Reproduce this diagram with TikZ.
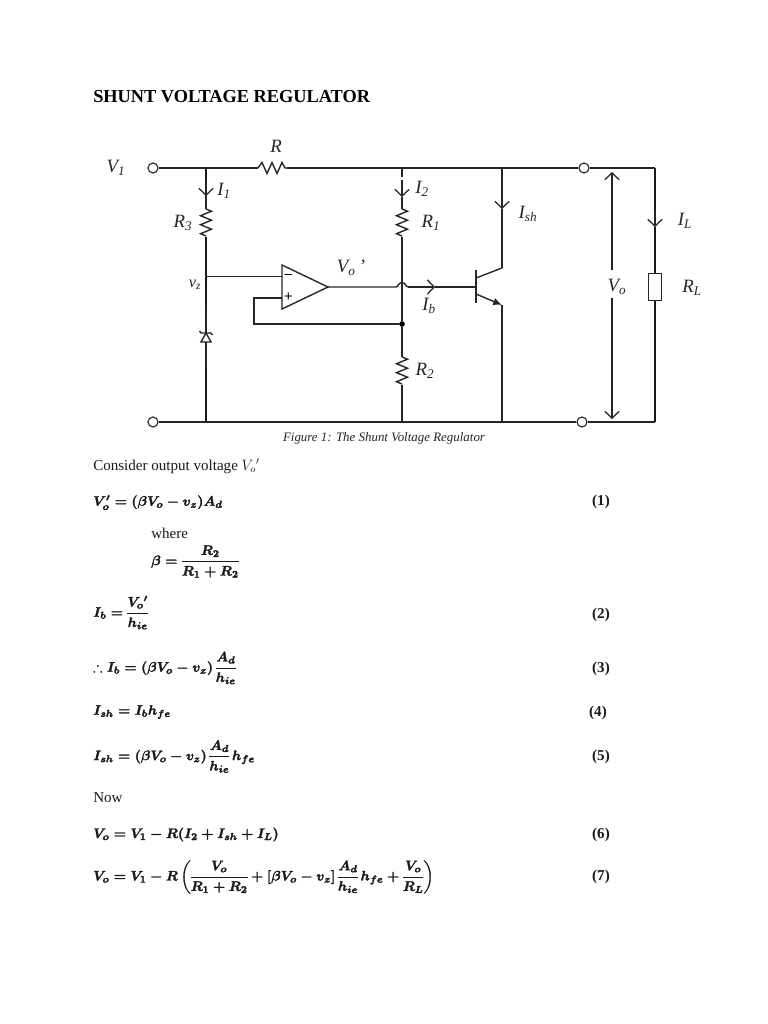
\documentclass[tikz,border=0pt]{standalone}
\usepackage{amsmath,amssymb}
\usepackage[no-math]{fontspec}
\setmainfont{Liberation Serif}
\usetikzlibrary{arrows.meta,calc}
\setlength{\nulldelimiterspace}{0pt}
\tikzset{
  wire/.style={line width=1.1pt,black!85},
  thick wire/.style={line width=1.7pt,black!90},
  thin wire/.style={line width=0.8pt,black!85},
  flow/.style={wire,-{Straight Barb[length=5.5pt,width=11.5pt,line width=1pt]}},
  term/.style={circle,draw=black!85,line width=0.9pt,fill=white,minimum size=8pt,inner sep=0pt},
  dot/.style={circle,fill=black,minimum size=4.5pt,inner sep=0pt},
  lab/.style={inner sep=0pt,font=\fontsize{15}{17}\selectfont\itshape,text=black!85},
  txt/.style={inner sep=0pt,anchor=base west,font=\fontsize{12}{14}\selectfont,text=black!90},
  eq/.style={inner sep=0pt,anchor=west,font=\fontsize{11}{13}\selectfont\boldmath,text=black!90,
    execute at begin node={\special{pdf:code 2 Tr 0.2 w}},
    execute at end node={\special{pdf:code 0 Tr}}},
  num/.style={inner sep=0pt,font=\fontsize{12}{14}\selectfont\bfseries,text=black!90},
}
\newcommand{\Rv}[1]{\draw[wire] (#1) -- ++(5.5,2.2) -- ++(-11,4.5) -- ++(11,4.5) -- ++(-11,4.5) -- ++(11,4.5) -- ++(-11,4.5) -- ++(5.5,2.3);}
\begin{document}
\begin{tikzpicture}[x=0.797pt,y=-0.797pt]
\useasboundingbox (0,0) rectangle (768,1024);
\fill[white] (0,0) rectangle (768,1024);
% title
\node[inner sep=0pt,anchor=base west,font=\fontsize{14.6}{17}\selectfont\bfseries,text=black] (title) at (93,102) {SHUNT VOLTAGE REGULATOR};
% terminals
\node[term] (tl) at (153,168) {};
\node[term] (bl) at (153,422) {};
\node[term] (tr) at (584,168) {};
\node[term] (br) at (582,422) {};
% junctions
\coordinate (j1) at (206,168);
\coordinate (j1b) at (206,422);
\coordinate (rA) at (258,168);
\coordinate (rB) at (287,168);
\coordinate (j2) at (402,168);
\coordinate (j2b) at (402,422);
\coordinate (j3) at (502,168);
\coordinate (j3b) at (502,422);
\coordinate (j4) at (655,168);
\coordinate (j4b) at (655,422);
% rails
\draw[wire] (tl) -- (rA);
\draw[wire] (rA) -- ++(4,-5.5) -- ++(5,11) -- ++(5,-11) -- ++(5,11) -- ++(5,-11) -- ++(3,5.5) -- (rB);
\draw[wire] (rB) -- (j2) -- (j3) -- (tr) -- (j4);
\draw[wire] (bl) -- (j1b) -- (j2b) -- (j3b) -- (br) -- (j4b);
% left branch
\coordinate (i1) at (206,196);
\coordinate (r3a) at (206,209);
\coordinate (r3b) at (206,236.6);
\coordinate (vz) at (206,276);
\coordinate (za) at (206,333);
\coordinate (zb) at (206,342);
\draw[thick wire] (j1) -- (i1);
\draw[flow] (206,180) -- (i1);
\draw[wire] (i1) -- (r3a);
\Rv{r3a}
\draw[thick wire] (r3b) -- (vz) -- (206,305);
\draw[wire] (206,305) -- (za);
\draw[wire] (201,342) -- (211,342) -- (206,333) -- cycle;
\draw[wire] (199.5,331) -- (201,333) -- (211,333) -- (212.5,335);
\draw[wire] (zb) -- (206,368);
\draw[thick wire] (206,368) -- (j1b);
% op amp
\coordinate (oa) at (282,265);
\coordinate (ob) at (282,309);
\coordinate (oc) at (328,287);
\coordinate (minus) at (282,276);
\coordinate (plus) at (282,298);
\draw[wire] (oa) -- (ob) -- (oc) -- cycle;
\draw[thin wire] (vz) -- (minus);
\coordinate (fb1) at (254,298);
\coordinate (fb2) at (254,324);
\node[dot] (fbj) at (402,324) {};
\draw[wire] (plus) -- (fb1) -- (fb2) -- (fbj);
\node[inner sep=0pt,font=\bfseries\fontsize{12}{12}\selectfont] (mi) at (288.5,276.5) {–};
\node[inner sep=0pt,font=\bfseries\fontsize{12}{12}\selectfont] (pl) at (288.5,297.5) {+};
% middle branch
\coordinate (i2) at (402,197);
\coordinate (r1a) at (402,209);
\coordinate (r1b) at (402,236.6);
\coordinate (r2a) at (402,357);
\coordinate (r2b) at (402,384.6);
\draw[wire] (j2) -- (402,177);
\draw[flow] (402,180) -- (i2);
\draw[wire] (i2) -- (r1a);
\Rv{r1a}
\draw[wire] (r1b) -- (fbj) -- (r2a);
\Rv{r2a}
\draw[wire] (r2b) -- (j2b);
% base line with hop
\coordinate (hopa) at (396,287);
\coordinate (hopb) at (408,287);
\coordinate (ib) at (435,287);
\coordinate (base) at (476,287);
\draw[wire] (oc) -- (hopa) .. controls (398,287) and (398.5,282.5) .. (402,282.5) .. controls (405.5,282.5) and (406,287) .. (hopb);
\draw[flow] (hopb) -- (ib);
\draw[wire] (ib) -- (base);
% transistor
\draw[wire] (476,270) -- (476,303);
\coordinate (c) at (502,268);
\coordinate (e) at (502,305);
\draw[wire] (476,278) -- (c);
\draw[wire,-{Latex[length=7pt,width=6pt]}] (476,294) -- (e);
\coordinate (i3) at (502,209);
\draw[wire] (j3) -- (502,190);
\draw[flow] (502,190) -- (i3);
\draw[wire] (i3) -- (c);
\draw[wire] (e) -- (j3b);
% load
\node[draw=black!85,line width=0.8pt,minimum width=9.6pt,minimum height=22.3pt,inner sep=0pt] (rl) at (655,287) {};
\coordinate (i4) at (655,227);
\draw[thick wire] (j4) -- (655,210);
\draw[flow] (655,210) -- (i4);
\draw[thick wire] (i4) -- (rl.north);
\draw[thick wire] (rl.south) -- (j4b);
% Vo arrow
\coordinate (voa) at (612,172);
\coordinate (vob) at (612,419);
\draw[flow] (612,270) -- (voa);
\draw[flow] (612,298) -- (vob);
% labels
\node[lab] (lV1) at (116,168) {V\textsubscript{1}};
\node[lab] (lR) at (276,146) {R};
\node[lab] (lI1) at (224,191) {I\textsubscript{1}};
\node[lab] (lR3) at (183,223) {R\textsubscript{3}};
\node[lab,font=\fontsize{13}{15}\selectfont\itshape] (lvz) at (195,285) {v\textsubscript{z}};
\node[lab] (lVop) at (351,268) {V\textsubscript{o}\,’};
\node[lab] (lI2) at (422,189) {I\textsubscript{2}};
\node[lab] (lR1) at (431,223) {R\textsubscript{1}};
\node[lab] (lIsh) at (528,214) {I\textsubscript{sh}};
\node[lab] (lIb) at (429,306) {I\textsubscript{b}};
\node[lab] (lR2) at (425,371) {R\textsubscript{2}};
\node[lab] (lVo) at (617,287) {V\textsubscript{o}};
\node[lab] (lRL) at (692,288) {R\textsubscript{L}};
\node[lab] (lIL) at (685,221) {I\textsubscript{L}};
% caption
\node[inner sep=0pt,font=\fontsize{10.3}{12}\selectfont\itshape,text=black!85] (cap) at (384,438) {Figure 1: The Shunt Voltage Regulator};
% body
\node[txt] (t1) at (93,470) {Consider output voltage $V_o{}'$};
\node[eq] (e1) at (93,502.5) {$V_o' = (\beta V_o - v_z)A_d$};
\node[num] (n1) at (601,501.5) {(1)};
\node[txt] (t2) at (151,538) {where};
\node[eq] (eb) at (151,561.5) {$\beta = \dfrac{R_2}{R_1 + R_2}$};
\node[eq] (e2) at (93,612.5) {$I_b = \dfrac{V_o{}'}{h_{ie}}$};
\node[num] (n2) at (601,614.5) {(2)};
\node[eq] (e3) at (93,668) {$\therefore I_b = (\beta V_o - v_z)\,\dfrac{A_d}{h_{ie}}$};
\node[num] (n3) at (601,668.5) {(3)};
\node[eq] (e4) at (93,712) {$I_{sh} = I_b h_{fe}$};
\node[num] (n4) at (598,712.5) {(4)};
\node[eq] (e5) at (93,756.5) {$I_{sh} = (\beta V_o - v_z)\,\dfrac{A_d}{h_{ie}}\,h_{fe}$};
\node[num] (n5) at (601,756.5) {(5)};
\node[txt] (t3) at (93,802) {Now};
\node[eq] (e6) at (93,834.5) {$V_o = V_1 - R(I_2 + I_{sh} + I_L)$};
\node[num] (n6) at (601,834.5) {(6)};
\node[eq] (e7) at (93,877) {$V_o = V_1 - R\left(\dfrac{V_o}{R_1 + R_2} + [\beta V_o - v_z]\,\dfrac{A_d}{h_{ie}}\,h_{fe} + \dfrac{V_o}{R_L}\right)$};
\node[num] (n7) at (601,876.5) {(7)};
\end{tikzpicture}
\end{document}
